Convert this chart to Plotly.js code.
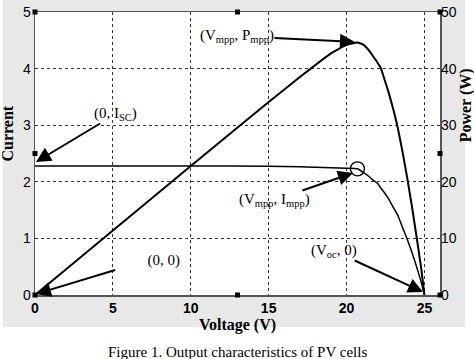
<!DOCTYPE html>
<html>
<head>
<meta charset="utf-8">
<script src="https://cdn.plot.ly/plotly-3.0.1.min.js"></script>
<style>
html,body{margin:0;padding:0;background:#fff;}
#chart{width:474px;height:359px;}
</style>
</head>
<body>
<div id="chart"></div>
<script>
// Shared voltage samples (V)
var voltage = [0, 5, 10, 15, 17, 19, 20, 20.7, 21.1, 21.5, 21.7, 22.0, 22.2, 22.4, 22.7, 23.0, 23.3, 23.6, 23.9, 24.2, 24.5, 24.8, 25.0];
// Current (A)
var current = [2.28, 2.28, 2.28, 2.275, 2.265, 2.25, 2.24, 2.23, 2.16, 2.08, 2.03, 1.97, 1.89, 1.82, 1.70, 1.55, 1.40, 1.19, 0.98, 0.75, 0.50, 0.22, 0];
// Power (W)
var power = [0, 11.4, 22.8, 34.1, 38.5, 42.7, 44.2, 44.6, 44.2, 43.0, 42.2, 41.0, 40.1, 38.4, 35.8, 32.8, 29.4, 25.2, 20.6, 15.6, 10.2, 4.6, 0];
var xTicks = [0, 5, 10, 15, 20, 25];
var yTicks = [0, 1, 2, 3, 4, 5];
var y2Ticks = [0, 10, 20, 30, 40, 50];

var mppIdx = power.indexOf(Math.max.apply(null, power));

var traces = [
  {x: voltage, y: current, type: 'scatter', mode: 'lines', line: {color: '#000', width: 1.5, shape: 'spline', smoothing: 0.4}, hoverinfo: 'skip'},
  {x: voltage, y: power, yaxis: 'y2', type: 'scatter', mode: 'lines', line: {color: '#000', width: 2, shape: 'spline', smoothing: 0.4}, hoverinfo: 'skip'},
  {x: [voltage[mppIdx]], y: [current[mppIdx]], type: 'scatter', mode: 'markers', marker: {symbol: 'circle-open', size: 14, color: '#000', line: {width: 1.3, color: '#000'}}, hoverinfo: 'skip'}
];

var serif = 'Liberation Serif, Times New Roman, serif';
var sans = 'Liberation Sans, Arial, sans-serif';

function handle(px, py) {
  return {type: 'rect', xref: 'paper', yref: 'paper', xsizemode: 'pixel', ysizemode: 'pixel',
    xanchor: px, yanchor: py, x0: -2.5, x1: 2.5, y0: -2.5, y1: 2.5,
    fillcolor: '#000', line: {width: 0}, layer: 'above'};
}
function whiteBand(x0, x1, y0, y1) {
  return {type: 'rect', xref: 'paper', yref: 'paper', x0: x0, x1: x1, y0: y0, y1: y1,
    fillcolor: '#ffffff', line: {width: 0}, layer: 'above'};
}

function callout(x, y, ax, ay, t, extra) {
  var a = {x: x, y: y, xref: 'x', yref: 'y', ax: ax, ay: ay, text: t, showarrow: true,
    arrowhead: 2, arrowsize: 1.5, arrowwidth: 2, arrowcolor: '#000', standoff: 0, startstandoff: 0,
    borderpad: 0, font: {family: serif, size: 15, color: '#000'}};
  if (extra) { for (var k in extra) a[k] = extra[k]; }
  return a;
}

var layout = {
  width: 474, height: 359,
  margin: {l: 35, r: 34, t: 12, b: 64},
  paper_bgcolor: '#e8e8e8',
  plot_bgcolor: '#ffffff',
  showlegend: false,
  xaxis: {
    range: [0, 26], tickvals: xTicks, ticktext: xTicks.map(String),
    showgrid: true, gridcolor: '#333', griddash: 'dot', gridwidth: 1,
    zeroline: false, showline: true, linecolor: '#555', linewidth: 1.5, mirror: true,
    ticks: '', tickfont: {family: sans, size: 14, color: '#000', weight: 'bold'},
    title: {text: 'Voltage (V)', font: {family: serif, size: 16, color: '#000', weight: 'bold'}, standoff: 2}
  },
  yaxis: {
    range: [0, 5], tickvals: yTicks, ticktext: yTicks.map(String),
    showgrid: true, gridcolor: '#333', griddash: '3px,3px', gridwidth: 1,
    zeroline: false, showline: true, linecolor: '#555', linewidth: 1.5, mirror: true,
    ticks: '', tickfont: {family: sans, size: 14, color: '#000'}
  },
  yaxis2: {
    range: [0, 50], tickvals: y2Ticks, ticktext: y2Ticks.map(String),
    overlaying: 'y', side: 'right', showgrid: false, zeroline: false,
    showline: false, ticks: '', tickfont: {family: sans, size: 14, color: '#000'}
  },
  shapes: [
    whiteBand(-0.2, 1.2, -0.3, -0.113),
    whiteBand(-0.2, -0.079, -0.3, 1.2),
    whiteBand(1.0617, 1.2, -0.3, 1.2),
    handle(0, 0), handle(0, 0.5), handle(0, 1), handle(0.5, 1), handle(0.5, 0),
    handle(1, 1), handle(1, 0.5), handle(1, 0)
  ],
  annotations: [
    callout(0.06, 2.35, 80, -48, '(0, I<sub>SC</sub>)'),
    callout(20.54, 4.47, -118, -6, '(V<sub>mpp</sub>, P<sub>mpp</sub>)'),
    callout(20.41, 2.155, -78, 27, '(V<sub>mpp</sub>, I<sub>mpp</sub>)'),
    callout(0.06, 0.018, 109, -33, '(0, 0)', {width: 70, align: 'right'}),
    callout(24.91, 0.053, -89, -41, '(V<sub>oc</sub>, 0)'),
    {xref: 'paper', yref: 'paper', x: -0.067, y: 0.57, text: 'Current', textangle: -90, showarrow: false,
      font: {family: serif, size: 16, color: '#000', weight: 'bold'}, xanchor: 'center', yanchor: 'middle'},
    {xref: 'paper', yref: 'paper', x: 1.064, y: 0.67, text: 'Power (W)', textangle: -90, showarrow: false,
      font: {family: serif, size: 16, color: '#000', weight: 'bold'}, xanchor: 'center', yanchor: 'middle'},
    {xref: 'paper', yref: 'paper', x: 0.5, y: -0.2, text: 'Figure 1. Output characteristics of PV cells', showarrow: false,
      font: {family: serif, size: 15, color: '#000'}, xanchor: 'center', yanchor: 'middle'}
  ]
};

Plotly.newPlot('chart', traces, layout, {staticPlot: true, displayModeBar: false});
</script>
</body>
</html>
